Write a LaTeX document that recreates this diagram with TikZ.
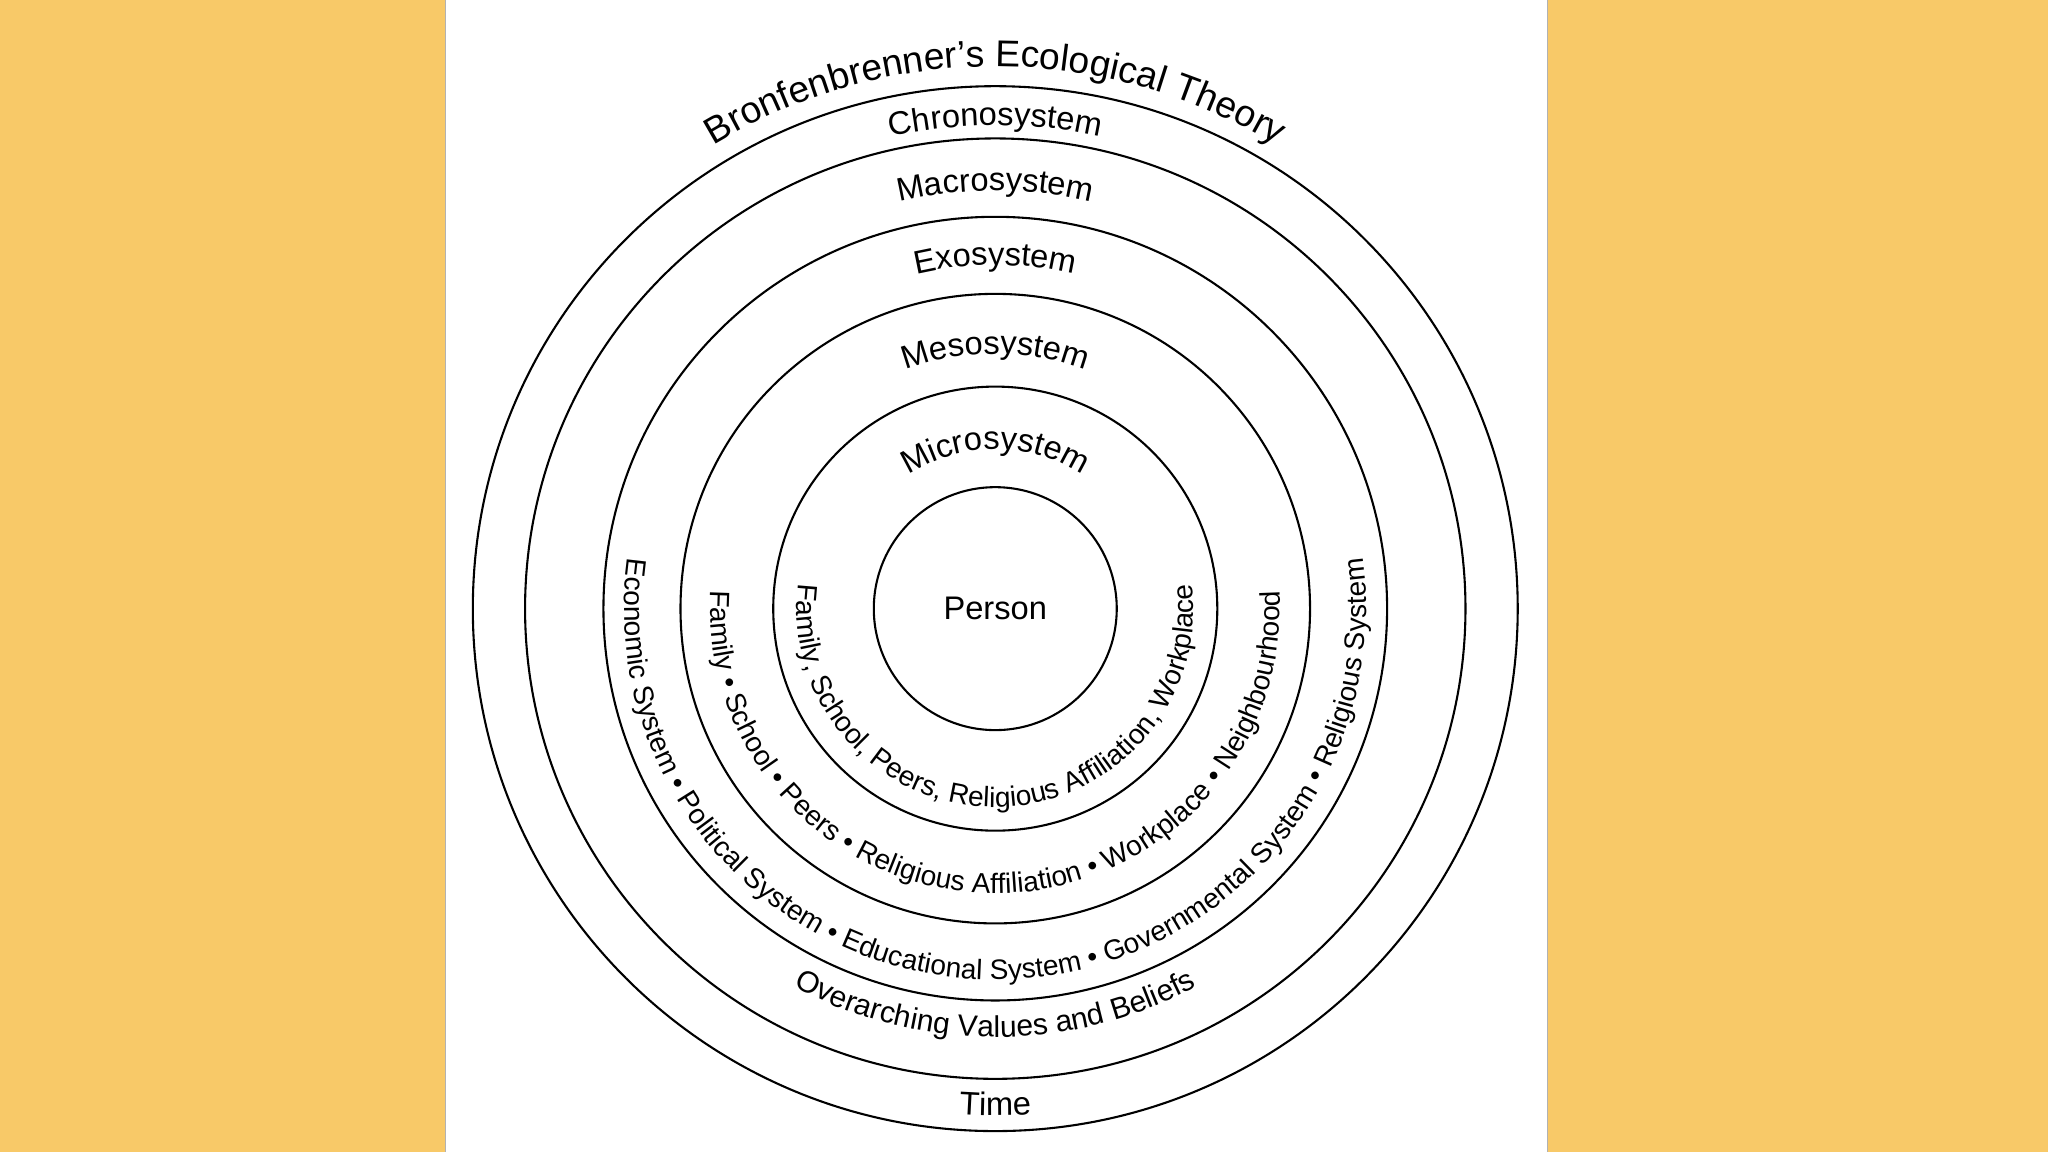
\documentclass[tikz,border=0pt]{standalone}
\usepackage{fontspec}
\setmainfont{Liberation Sans}
\usetikzlibrary{decorations.text}
\definecolor{bgorange}{RGB}{248,201,104}
\newcommand\ringfont{\fontsize{21.5}{25}\selectfont}
\newcommand\labfont{\fontsize{25}{30}\selectfont}
\newcommand\bfont{\fontsize{23}{28}\selectfont}
\newcommand\titfont{\fontsize{28.5}{34}\selectfont}
\begin{document}
\begin{tikzpicture}[x=1pt,y=1pt,
  ring/.style={circle,draw=black,line width=1.6pt,inner sep=0pt},
  arctext/.style={decorate,decoration={text along path,text align=center,#1}}]
\useasboundingbox (0,0) rectangle (1568,882);
\fill[bgorange] (0,0) rectangle (1568,882);
\fill[white] (341,0) rectangle (1185,882);
\draw[gray!60,line width=1pt] (341,0) -- (341,882) (1185,0) -- (1185,882);
\coordinate (c) at (762,416);
\node[ring,minimum size=800pt] (chrono) at (c) {};
\node[ring,minimum size=720pt] (macro) at (c) {};
\node[ring,minimum size=600pt] (exo) at (c) {};
\node[ring,minimum size=482pt] (meso) at (c) {};
\node[ring,minimum size=340pt] (micro) at (c) {};
\node[ring,minimum size=186pt,font=\labfont] (person) at (c) {Person};
% top labels
\path[arctext={text={|\titfont|Bronfenbrenner’s Ecological Theory}}] (c) ++(150:415pt) arc[start angle=150,end angle=30,radius=415pt];
\path[arctext={text={|\labfont|Chronosystem}}] (c) ++(150:370pt) arc[start angle=150,end angle=30,radius=370pt];
\path[arctext={text={|\labfont|Macrosystem}}] (c) ++(150:320pt) arc[start angle=150,end angle=30,radius=320pt];
\path[arctext={text={|\labfont|Exosystem}}] (c) ++(150:263pt) arc[start angle=150,end angle=30,radius=263pt];
\path[arctext={text={|\labfont|Mesosystem}}] (c) ++(150:195pt) arc[start angle=150,end angle=30,radius=195pt];
\path[arctext={text={|\labfont|Microsystem}}] (c) ++(150:122pt) arc[start angle=150,end angle=30,radius=122pt];
% bottom / ring texts
\path[arctext={text={|\labfont|Time}}] (c) ++(240:388pt) arc[start angle=240,end angle=300,radius=388pt];
\path[arctext={text={|\bfont|Overarching Values and Beliefs}}] (c) ++(200:328pt) arc[start angle=200,end angle=340,radius=328pt];
\path[arctext={text={|\ringfont|Economic System • Political System • Educational System • Governmental System • Religious System}}] (c) ++(160:284pt) arc[start angle=160,end angle=380,radius=284pt];
\path[arctext={text={|\ringfont|Family • School • Peers • Religious Affiliation • Workplace • Neighbourhood}}] (c) ++(160:218pt) arc[start angle=160,end angle=380,radius=218pt];
\path[arctext={text={|\ringfont|Family, School, Peers, Religious Affiliation, Workplace}}] (c) ++(155:152pt) arc[start angle=155,end angle=385,radius=152pt];
\end{tikzpicture}
\end{document}
